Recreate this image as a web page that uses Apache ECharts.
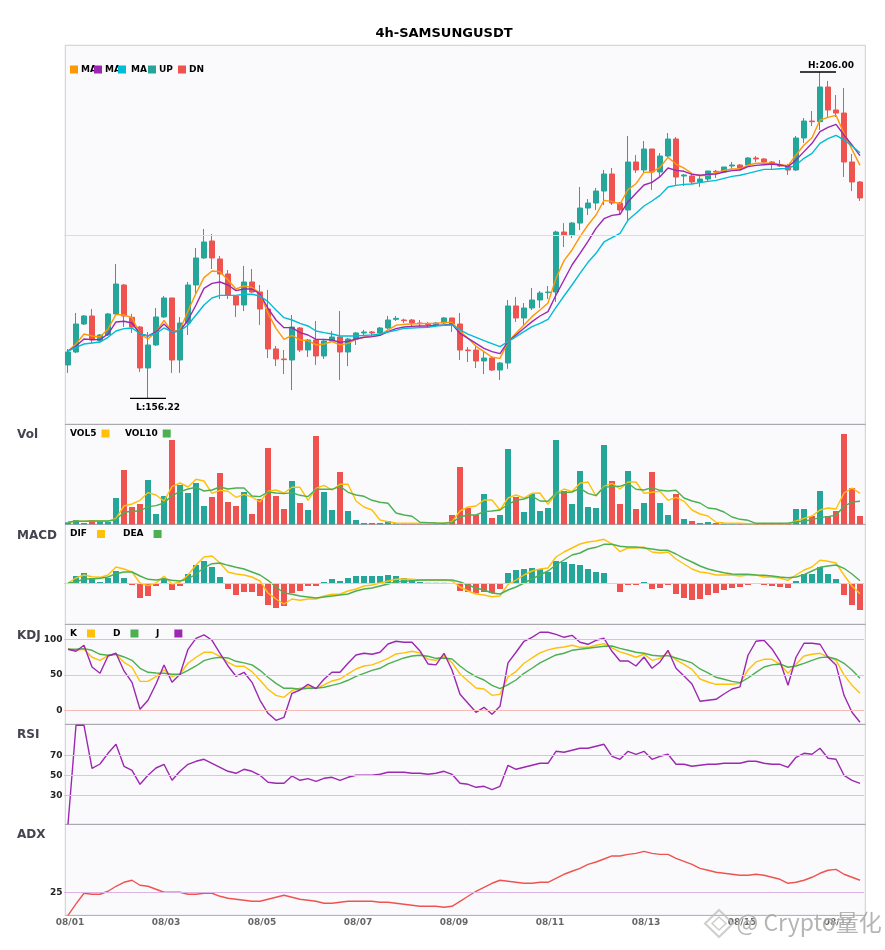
<!DOCTYPE html>
<html><head><meta charset="utf-8">
<style>html,body{margin:0;padding:0;background:#fff}#c{width:885px;height:950px}</style>
<script src="https://cdn.jsdelivr.net/npm/echarts@6/dist/echarts.min.js"></script>
</head><body><div id="c"></div>
<script>
const categories = ['08/01 00','08/01 04','08/01 08','08/01 12','08/01 16','08/01 20','08/02 00','08/02 04','08/02 08','08/02 12','08/02 16','08/02 20','08/03 00','08/03 04','08/03 08','08/03 12','08/03 16','08/03 20','08/04 00','08/04 04','08/04 08','08/04 12','08/04 16','08/04 20','08/05 00','08/05 04','08/05 08','08/05 12','08/05 16','08/05 20','08/06 00','08/06 04','08/06 08','08/06 12','08/06 16','08/06 20','08/07 00','08/07 04','08/07 08','08/07 12','08/07 16','08/07 20','08/08 00','08/08 04','08/08 08','08/08 12','08/08 16','08/08 20','08/09 00','08/09 04','08/09 08','08/09 12','08/09 16','08/09 20','08/10 00','08/10 04','08/10 08','08/10 12','08/10 16','08/10 20','08/11 00','08/11 04','08/11 08','08/11 12','08/11 16','08/11 20','08/12 00','08/12 04','08/12 08','08/12 12','08/12 16','08/12 20','08/13 00','08/13 04','08/13 08','08/13 12','08/13 16','08/13 20','08/14 00','08/14 04','08/14 08','08/14 12','08/14 16','08/14 20','08/15 00','08/15 04','08/15 08','08/15 12','08/15 16','08/15 20','08/16 00','08/16 04','08/16 08','08/16 12','08/16 16','08/16 20','08/17 00','08/17 04','08/17 08','08/17 12'];
const opens = [161.31,163.29,167.56,168.78,165.00,165.88,169.09,173.51,168.58,167.10,160.85,164.36,168.63,171.53,162.07,167.71,173.51,177.63,180.22,177.48,175.19,171.83,170.46,173.97,172.44,169.85,163.75,162.22,162.07,166.95,163.59,165.12,162.68,164.97,165.58,163.29,165.27,166.19,166.34,166.19,166.95,168.27,168.17,168.17,167.71,167.61,167.46,167.71,168.48,167.56,163.59,163.59,161.92,162.37,160.54,161.61,170.31,168.48,170.00,171.22,172.34,172.44,181.59,181.13,182.96,185.25,186.01,187.84,190.44,186.01,184.95,192.27,191.05,194.25,190.74,193.18,195.78,190.13,190.13,189.22,189.67,190.85,190.74,191.66,191.81,191.81,192.88,192.73,192.27,191.81,191.66,191.05,195.93,198.52,198.42,203.71,200.20,199.74,192.27,189.22];
const closes = [163.29,167.56,168.78,165.12,165.88,169.09,173.66,168.78,167.10,160.85,164.36,168.63,171.53,162.07,167.71,173.51,177.63,180.07,177.63,175.19,171.98,170.46,173.97,172.44,169.85,163.75,162.22,162.12,167.10,163.59,165.12,162.68,164.97,165.58,163.29,165.27,166.19,166.34,166.19,166.95,168.17,168.42,168.07,167.71,167.61,167.46,167.71,168.48,167.56,163.59,163.49,161.92,162.37,160.54,161.61,170.31,168.48,170.00,171.22,172.29,172.44,181.59,181.13,182.96,185.25,186.01,187.84,190.44,186.01,184.95,192.27,191.05,194.25,190.74,193.18,195.78,189.98,190.29,189.22,189.67,190.90,190.74,191.51,191.81,191.35,192.88,192.73,192.27,192.12,191.66,191.05,195.93,198.52,198.42,203.71,200.20,199.74,192.27,189.22,186.78];
const lows = [160.09,163.14,167.41,164.61,164.81,165.73,168.93,167.10,166.19,160.24,156.22,164.20,168.48,160.09,160.09,165.88,171.98,177.48,175.95,171.37,171.37,168.63,169.54,172.29,167.41,162.37,161.15,159.93,157.49,163.29,162.53,161.31,162.22,164.81,159.02,161.15,164.36,165.73,165.73,166.03,166.80,168.02,167.71,167.10,167.10,167.10,167.10,167.56,166.34,162.07,161.76,160.85,159.93,160.39,159.02,160.70,167.87,167.41,169.70,170.00,171.37,170.92,179.30,180.67,181.89,184.18,184.95,185.71,185.71,184.18,183.42,190.59,190.44,188.00,190.13,193.03,188.61,188.61,188.91,188.46,189.37,189.83,190.59,191.20,191.05,191.66,192.27,192.12,191.20,191.51,190.29,190.90,195.17,197.76,197.15,198.98,199.13,189.98,187.84,186.32];
const highs = [163.75,169.24,168.93,169.85,166.03,169.24,176.71,173.66,169.09,167.26,166.34,170.00,171.83,171.53,168.63,173.97,179.15,182.05,181.29,177.93,175.80,171.98,176.41,175.95,173.51,172.75,164.20,163.59,168.93,167.10,165.27,168.02,165.12,166.49,169.54,165.42,166.34,166.65,166.49,167.10,168.78,168.78,168.37,168.32,168.17,167.87,167.87,168.63,168.48,169.24,164.05,164.20,163.44,162.68,161.76,171.22,171.68,170.76,173.05,172.59,173.36,181.80,182.96,183.12,188.46,186.62,188.30,191.05,191.35,186.17,196.24,193.34,195.47,194.25,193.64,196.69,196.08,190.44,190.29,190.29,190.90,191.05,191.51,192.27,191.96,193.03,193.18,192.88,192.42,192.57,191.96,196.24,198.98,200.05,206.00,204.63,202.49,203.56,193.49,189.37];
const ma5 = [163.44,164.51,166.03,165.73,165.58,166.80,169.03,168.93,168.53,166.03,165.27,166.34,168.12,166.34,166.65,169.54,172.24,174.63,175.65,175.54,174.27,172.90,173.36,173.15,172.24,169.19,166.90,165.22,165.83,165.12,165.02,164.36,164.51,164.87,164.36,164.61,165.22,165.53,165.63,165.88,166.65,167.36,167.51,167.56,167.61,167.66,167.66,167.81,167.81,166.49,165.37,164.15,163.34,162.48,162.32,164.87,166.14,167.41,168.68,169.70,170.76,174.53,177.22,178.85,180.88,182.66,184.18,186.42,186.27,185.86,188.05,188.96,190.69,190.74,191.46,192.98,191.96,191.35,190.49,190.18,190.29,190.64,191.00,191.20,191.20,191.81,192.07,192.07,192.07,191.91,191.71,193.34,194.86,195.98,198.68,199.08,199.39,196.64,194.20,191.76];
const ma10 = [163.44,164.20,165.27,165.17,165.17,166.03,167.87,167.97,167.71,166.03,165.73,166.34,167.56,166.34,166.49,168.17,170.46,173.00,173.76,173.97,173.51,172.65,172.90,172.90,172.14,169.95,168.17,167.00,167.00,166.24,165.88,165.22,165.22,165.12,164.76,164.92,165.27,165.53,165.63,165.83,166.39,166.85,167.10,167.20,167.26,167.26,167.36,167.41,167.51,166.14,165.37,164.61,163.85,163.34,163.03,164.87,165.88,166.90,167.92,168.78,169.44,171.98,174.27,176.56,178.34,180.17,182.15,183.62,184.13,184.29,186.17,187.49,188.76,189.17,190.03,191.35,191.00,190.85,190.39,190.24,190.39,190.44,190.74,190.95,191.05,191.56,191.76,191.86,191.96,191.81,191.56,192.57,193.85,195.12,196.90,197.56,198.01,196.39,194.86,193.23];
const ma20 = [163.44,164.00,164.51,164.66,164.81,165.53,166.49,166.85,166.95,166.09,165.73,166.14,166.95,166.34,166.49,167.41,168.93,170.46,171.53,171.93,171.93,171.93,172.09,172.09,171.83,170.97,169.70,168.53,168.17,167.66,167.26,166.49,166.24,166.03,165.73,165.73,165.73,165.83,165.88,166.03,166.34,166.59,166.90,166.95,167.00,167.05,167.26,167.36,167.41,166.65,166.03,165.53,165.02,164.56,164.10,164.87,165.63,166.39,167.15,167.66,168.27,170.10,171.83,173.51,175.29,176.97,178.34,180.07,180.73,181.39,183.42,184.44,185.56,186.32,187.18,188.46,188.71,188.86,188.91,189.12,189.32,189.47,189.78,190.08,190.24,190.54,190.85,191.15,191.15,191.25,191.30,191.81,192.83,193.59,195.12,195.83,196.34,195.63,194.71,193.69];
const volume = [2,4.3,1.3,4.3,3.3,2.3,26.3,54.3,17.3,20.3,44.3,10.3,28.3,84.3,39.3,31.3,41.3,18.3,27.3,51.3,22.3,18.3,32.3,10.3,25.3,76.3,28.3,15.3,43.3,21.3,14.3,88.3,32.3,14.3,52.3,13.3,4.3,1.3,1.3,1.3,3.3,1,1,1,1,.7,.7,.7,9.3,57.3,16.3,9.3,30.3,6.3,9.3,75.3,27.3,12.3,30.3,13.3,16.3,84.3,33.3,20.3,53.3,17.3,16.3,79.3,43.3,20.3,53.3,15.3,21.3,52.3,21.3,9.3,30.3,5.3,3.3,1.3,2.3,1.3,.7,.7,1,.3,1.3,.7,.7,.7,1,15.3,15.3,8.3,33.3,8.3,13.3,90.3,36.3,8.3];
const vol5 = [2,3,3,3.3,3.3,3,6,18.3,20.3,24,31.7,29.3,23.3,37.7,41.3,37.3,45,43.3,31,34,33,27,30,27.3,22.3,33,34.3,31.3,37,37,24,36,39,34.3,40,40,23.3,17.3,14.3,4.3,2.7,1.3,1,1,1,1,1,1,2.7,13.3,17.3,18.3,24.3,24.3,14.3,26.3,29.3,26.3,31,31.3,20,31,35.3,32.7,41,42.3,28.3,38,41,35.3,42.3,42.3,31,32,33,24,27,23,14.3,10.3,8.3,2,1.3,1,1,.7,.7,.7,.7,.7,.7,3.3,6,8.3,14.3,16.3,15.3,31.3,36.3,31];
const vol10 = [2,3,3,3.3,3.3,3.3,4.7,12,13,13.3,17.7,18.7,21.3,28.7,32.7,35.3,37,33.3,34.3,37.3,35.3,36.3,36.3,28.3,27.7,32.3,31.3,30.7,31.7,29,27.7,35,35,35,38,32,29.3,28,24,22,21,11.3,9.3,8,2,1.7,1.3,1,1.7,7.3,9.3,9.3,12.7,13.3,14.3,20,24,25.3,28.3,23.3,23,31.3,31.7,32.3,36,31,28.7,37,37.7,38,41,35,34.3,36.7,34,33.3,34,26.3,23.3,21.3,16.3,15.3,12.3,7.3,5,4,1,1,1,1,1,2.3,3.3,4.7,6.7,7.7,9,18,22.3,23];
const macdHist = [0,.7,1,.5,.1,.5,1.2,.5,-.2,-1.5,-1.3,-.3,.5,-.7,-.3,.9,1.8,2.2,1.6,.6,-.6,-1.2,-.9,-.9,-1.3,-2.2,-2.5,-2.3,-1,-.8,-.3,-.3,.1,.4,.2,.5,.7,.7,.7,.7,.8,.7,.5,.3,.1,.02,.02,.02,-.1,-.8,-.9,-1.03,-.9,-1,-.6,1,1.3,1.4,1.5,1.4,1.1,2.2,2.1,1.9,1.8,1.4,1.1,1,-.1,-.9,-.2,-.2,.1,-.6,-.5,-.2,-1.1,-1.5,-1.7,-1.6,-1.2,-1,-.7,-.5,-.4,-.2,-.1,-.2,-.3,-.4,-.5,.2,.9,.9,1.6,.9,.4,-1.2,-2.2,-2.7];
const dif = [0,.5,.8,.63,.57,.8,1.6,1.4,1.1,0,-.27,0,.67,-.1,.1,.8,1.8,2.6,2.7,2,1.1,.9,.8,.6,.2,-1,-1.6,-2.1,-1.6,-1.73,-1.6,-1.6,-1.3,-1.13,-1.1,-.8,-.6,-.3,-.2,0,.2,.37,.4,.37,.3,.3,.3,.3,.2,-.4,-.8,-1.1,-1.2,-1.37,-1.3,-.13,.3,.8,1.2,1.4,1.5,2.6,3.1,3.5,3.9,4.1,4.2,4.37,3.9,3.13,3.5,3.5,3.6,3.1,3,3.1,2.4,1.9,1.4,1.1,1,.8,.8,.8,.7,.8,.8,.6,.6,.5,.27,.8,1.3,1.6,2.27,2.17,2,.8,-.3,-1.07];
const dea = [0,.1,.4,.4,.47,.6,.93,1.1,1.1,.7,.37,.3,.4,.27,.2,.4,.9,1.53,1.93,2,1.77,1.57,1.4,1.1,.8,.27,-.4,-1,-1.13,-1.3,-1.4,-1.5,-1.4,-1.3,-1.2,-1.1,-.8,-.6,-.5,-.3,-.1,.1,.2,.2,.3,.3,.3,.3,.3,.1,-.2,-.5,-.7,-1,-1.1,-.7,-.4,0,.4,.8,1.2,1.8,2.3,2.8,3,3.4,3.57,3.87,3.87,3.67,3.6,3.6,3.5,3.4,3.27,3.27,2.9,2.47,2.1,1.7,1.4,1.2,1.03,.9,.87,.87,.8,.77,.7,.6,.53,.6,.83,1.2,1.57,1.7,1.8,1.47,.9,.23];
const kLine = [85.9,85,85.9,74.7,70.4,77,78.9,67.6,60.6,40.8,40.8,47.4,56.8,47.4,51.2,66.2,74.7,81.7,81.7,76.1,67.6,62,62,54.5,42.3,29.6,21.1,18.3,27.7,31,33.3,31,35.7,41.3,44.1,51.2,58.2,62.4,63.9,68.1,73.2,79.3,80.8,83.1,80.8,71.8,70.4,77,67.1,51.2,41.3,31.5,30,21.1,22.5,47,54.5,66.2,73.7,80.8,85,87.8,89.2,91.6,88.7,88.7,91.6,93.9,87.8,82.2,78.9,74.7,78.9,70.4,73.2,81.7,70.9,64.8,57.7,44.1,39.9,36.6,36.6,36.6,38,56.8,68.1,71.8,71.8,64.8,52.1,64.8,76.5,78.9,80.3,75.1,70.4,49.8,35.2,23.9];
const dLine = [85.9,85.9,86.9,84.5,78.9,77.5,78.9,75.1,70.4,59.2,53.5,52.6,52.1,50.7,50.7,56.3,62.4,70,73.2,74.7,73.7,69,66.7,63.9,56.3,46.5,38,31,31,29.6,31,31,32.4,35.2,38,42.3,47.9,52.1,56.3,59.2,65.3,69.5,73.7,76.5,77.5,76.1,73.2,73.7,72.3,62.4,54,47.4,42.7,35.2,30.5,36.2,42.7,52.1,59.2,66.7,72.3,77.9,80.3,84.5,85.9,87.3,88.7,90.1,90.6,87.3,84.5,81.7,80.3,77.5,76.5,77,73.7,70.4,66.7,58.2,52.6,46.5,43.7,40.8,39,45.5,53.5,61,63.9,65.3,60.6,62.4,66.2,70.4,74.2,75.1,72.3,66.2,56.8,45.1];
const jLine = [85.9,83.1,91.6,61,52.1,76.5,80.3,55.4,39.4,1.4,14.1,37.1,63.9,39.4,50.7,85.9,101.4,106.1,98.6,80.3,62.4,47.9,53.5,39.4,14.1,-4.2,-14.1,-9.9,23.9,28.6,36.6,30.5,43.7,53.5,53.5,66.2,77.9,80.3,78.9,81.7,93.4,97.2,95.8,95.8,83.6,65.3,63.9,80.3,56.8,22.5,9.9,-2.8,4.2,-5.6,5.6,66.7,81.7,97.2,102.8,109.9,109.9,107,102.8,105.6,95.8,93,98.6,101.4,83.1,69.5,69.5,62.4,75.1,59.2,68.1,84.5,59.2,48.4,37.1,12.7,14.1,15.5,23,30,32.9,77.5,97.2,98.6,86.4,69,35.2,74.7,94.4,94.4,93,74.7,63.9,21.1,-2.8,-16.9];
const rsi = [1,100,100,57,61.3,72,81,59,55,41,50,57.3,61,45,54,61,64,66,62,58,54,52,56,54,50,43,42,42,49.3,45,46.7,44,47,48,45,48,50,50,50,51,53,53,53,52,52,51,52,54,51,42,41,38,39,35.7,39,60,56,58,60,62,62,74,73,75,77,77,79,81,69,66,74,71,74,66,69,71,61,61,59,60,61,61,62,62,62,64,64,62,61,61,58,68,72,71,77,67,66,50,45,42];
const adx = [0,12.5,24.2,23.1,23.1,26.4,31.9,36.3,38.5,33,31.9,28.6,25.3,25.3,25.3,23.1,23.1,24.2,24.2,20.9,18.7,17.6,16.5,15.4,15.4,17.6,19.8,22,19.8,17.6,16.5,15.4,13.2,13.2,14.3,15.4,15.4,15.4,15.4,14.3,14.3,13.2,12.1,11,9.9,9.9,9.9,8.8,9.9,15.4,20.9,26.4,30.8,35.2,38.5,37.4,36.3,35.2,35.2,36.3,36.3,40.7,45.1,48.4,51.6,56,58.6,61.9,65.2,65.2,67,68.1,70.3,68.1,67,67,62.6,59.3,56,51.6,49.5,47.3,46.2,45.1,44,44,45.1,44,41.8,39.6,35.2,36.3,38.5,41.8,46.2,49.5,50.5,45.1,41.8,38.5];
const highIndex = 94, lowIndex = 10;

const UP = '#26a69a', DN = '#ef5350';
const ORANGE = '#ff9800', PURPLE = '#9c27b0', CYAN = '#00bcd4', YELLOW = '#ffc107', GREEN = '#4caf50';
const FONT = '"DejaVu Sans"';
const panes = [
  {top:45.3, height:379},
  {top:424.3, height:100},
  {top:524.3, height:100},
  {top:624.3, height:100},
  {top:724.3, height:100},
  {top:824.3, height:91}
];
const dataGrids = panes.map(p => ({left:64, width:800, top:p.top, height:p.height, show:false}));
const panelGrids = panes.map(p => ({left:65.3, width:800, top:p.top, height:p.height, show:true, backgroundColor:'#fafafc', borderColor:'#cdcdd8', borderWidth:1, z:0}));

const xAxes = panes.map((p,i) => ({
  type:'category', gridIndex:i, data:categories, boundaryGap:true,
  axisLine:{show:false}, axisTick:{show:false}, splitLine:{show:false},
  axisLabel: i===5 ? {show:true, interval:11, margin:3, padding:[0,0,0,4], fontFamily:FONT, fontSize:9, fontWeight:'bold', color:'#666', formatter:v=>v.slice(0,5)} : {show:false}
}));
// hidden x axes of the background panels: they draw the darker pane separators
const panelX = panes.map((p,i) => ({type:'value', gridIndex:6+i, min:0, max:1, axisLine:{show:true,onZero:false,lineStyle:{color:i===5?'#b4b4b8':'#aaaaae',width:1}}, axisTick:{show:false}, axisLabel:{show:false}, splitLine:{show:false}}));
const panelY = panes.map((p,i) => ({type:'value', gridIndex:6+i, min:0, max:1, show:false}));
const yLabel = vals => ({show:true, customValues:vals, margin:1.5, fontFamily:FONT, fontSize:9, fontWeight:'bold', color:'#222'});
const yBase = {type:'value', axisLine:{show:false}, axisTick:{show:false}, splitLine:{show:false}};
const yAxes = [
  {...yBase, gridIndex:0, min:152.26, max:210.07, axisLabel:{show:false}},
  {...yBase, gridIndex:1, min:0, max:100, axisLabel:{show:false}},
  {...yBase, gridIndex:2, min:-4.13, max:5.87, axisLabel:{show:false}},
  {...yBase, gridIndex:3, min:-19.7, max:121.1, axisLabel:yLabel([100,50,0])},
  {...yBase, gridIndex:4, min:1, max:101, axisLabel:yLabel([70,50,30])},
  {...yBase, gridIndex:5, min:0, max:100, axisLabel:yLabel([25])}
];
const mLine = items => ({silent:true, symbol:'none', animation:false, label:{show:false}, emphasis:{disabled:true},
  data:items.map(([v,c]) => ({yAxis:v, lineStyle:{color:c, width:1, type:'solid'}}))});
const line = (name,data,color,g,extra) => ({type:'line', name, data, xAxisIndex:g, yAxisIndex:g, showSymbol:false, symbol:'none', smooth:false,
  lineStyle:{color, width:1.4}, itemStyle:{color}, silent:true, ...extra});
const extreme = (idx,val,txt,pos,off,symOff) => ({coord:[idx,val], value:val, symbol:'rect', symbolSize:[36,1.4], symbolOffset:symOff, itemStyle:{color:'#000'},
  label:{show:true, formatter:txt, position:pos, offset:off, color:'#000', fontFamily:FONT, fontSize:9, fontWeight:'bold'}});

const candle = {type:'candlestick', name:'OHLC', xAxisIndex:0, yAxisIndex:0, barWidth:6, silent:true,
  data:categories.map((_,i)=>[opens[i],closes[i],lows[i],highs[i]]),
  itemStyle:{color:UP, color0:DN, borderColor:UP, borderColor0:DN, borderWidth:1},
  markLine:mLine([[181.17,'#dcdce6']]),
  markPoint:{silent:true, animation:false, data:[
    extreme(highIndex,highs[highIndex],'H:206.00','top',[13,4],[-2,0]),
    extreme(lowIndex,lows[lowIndex],'L:156.22','bottom',[10,-1],[0,0])
  ]}};
const volBars = {type:'bar', name:'Volume', xAxisIndex:1, yAxisIndex:1, barWidth:6, silent:true,
  data:volume.map((v,i)=>({value:v, itemStyle:{color:closes[i]>=opens[i]?UP:DN}}))};
const histBars = {type:'bar', name:'Hist', xAxisIndex:2, yAxisIndex:2, barWidth:6, silent:true,
  data:macdHist.map(v=>({value:v, itemStyle:{color:v>=0?UP:DN}})),
  markLine:mLine([[0,'#d4d4d8']])};
const dummy = (name,color) => ({type:'bar', name, data:[], xAxisIndex:0, yAxisIndex:0, itemStyle:{color}});

const series = [
  candle,
  line('MA5',ma5,ORANGE,0), line('MA10',ma10,PURPLE,0), line('MA20',ma20,CYAN,0),
  dummy('UP',UP), dummy('DN',DN),
  volBars, line('VOL5',vol5,YELLOW,1), line('VOL10',vol10,GREEN,1),
  histBars, line('DIF',dif,YELLOW,2), line('DEA',dea,GREEN,2),
  line('K',kLine,YELLOW,3,{markLine:mLine([[100,'#a6dbd6'],[50,'#cfcfd3'],[0,'#f9b9b7']])}),
  line('D',dLine,GREEN,3), line('J',jLine,PURPLE,3),
  line('RSI',rsi,PURPLE,4,{markLine:mLine([[70,'#a6dbd6'],[50,'#cfcfd3'],[30,'#f9b9b7']])}),
  line('ADX',adx,DN,5,{markLine:mLine([[25,'#dcb4e4']])})
];
const legendBase = {icon:'rect', itemWidth:8, itemHeight:8, selectedMode:false, padding:0,
  textStyle:{fontFamily:FONT, fontSize:9, fontWeight:'bold', color:'#000'}};
const topLegends = [['MA5',70,-2,'MA'],['MA10',94,-2,'MA'],['MA20',118,0,'MA'],['UP',148,-2,'UP'],['DN',178,-2,'DN']].map(([n,l,p,t],i)=>({
  ...legendBase, data:[n], left:l, top:65, z:4+i, formatter:()=>t,
  textStyle:{...legendBase.textStyle, padding:[0,0,0,p]}
}));
const paneLegends = [['VOL5',70,429,0],['VOL10',125,429,0],['DIF',70,529.5,5],['DEA',123,529.5,5],['K',70,629,5],['D',113,629,5],['J',156,629,10]].map(([n,l,t,p])=>({
  ...legendBase, data:[n], left:l, top:t, align:'right',
  textStyle:{...legendBase.textStyle, padding:[0,p,0,0]}
}));
const paneTitle = (text,top) => ({text, left:17, top, padding:0, textStyle:{fontFamily:FONT, fontSize:12, fontWeight:'bold', color:'#444450'}});

const chart = echarts.init(document.getElementById('c'), null, {renderer:'canvas'});
chart.setOption({
  animation:false, backgroundColor:'#fff', tooltip:{show:false},
  title:[
    {text:'4h-SAMSUNGUSDT', left:444, textAlign:'center', top:27, padding:0, textStyle:{fontFamily:FONT, fontSize:13, fontWeight:'bold', color:'#000'}},
    paneTitle('Vol',429), paneTitle('MACD',529.5), paneTitle('KDJ',629.5), paneTitle('RSI',729), paneTitle('ADX',829)
  ],
  legend:[...topLegends, ...paneLegends],
  grid:[...dataGrids, ...panelGrids],
  xAxis:[...xAxes, ...panelX],
  yAxis:[...yAxes, ...panelY],
  series,
  graphic:[
    {type:'polygon', z:100, silent:true, shape:{points:[[719,910],[733,923.5],[719,937],[705,923.5]]}, style:{fill:'none', stroke:'rgba(190,190,190,.75)', lineWidth:2}},
    {type:'polygon', z:100, silent:true, shape:{points:[[719,917],[726,923.5],[719,930],[712,923.5]]}, style:{fill:'rgba(255,255,255,.6)', stroke:'rgba(190,190,190,.75)', lineWidth:1.5}},
    {type:'text', z:100, silent:true, left:736, top:910, style:{text:'@ Crypto量化', fontFamily:'"Noto Sans CJK SC"', fontSize:23, fill:'rgba(150,150,150,.7)', stroke:'rgba(255,255,255,.6)', lineWidth:1}}
  ]
});
</script></body></html>
